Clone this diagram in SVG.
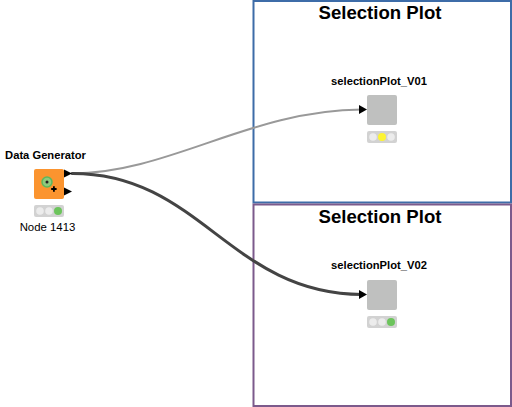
<svg xmlns="http://www.w3.org/2000/svg" width="512" height="407" viewBox="0 0 512 407">
<style>
text{font-family:"Liberation Sans",Arial,sans-serif;fill:#000;text-anchor:middle}
.t{font-size:18.6px;font-weight:bold}
.n{font-size:11.2px;font-weight:bold}
.l{font-size:11.4px}
.box{fill:none;stroke-width:2}
.bar{fill:#d2d2d2}
.off{fill:#ececec}
.g{fill:#6cc45c}
.y{fill:#fdf433}
.node{fill:#bfc0bf}
.port{fill:#000}
.c{fill:none;stroke-linecap:round}
</style>
<rect width="512" height="407" fill="#fff"/>
<g id="annotation-1"><rect class="box" x="253.5" y="1" width="257.5" height="201.5" stroke="#3d6ca8"/><text class="t" x="380" y="18.500">Selection Plot</text></g>
<g id="annotation-2"><rect class="box" x="253.5" y="204.5" width="257.5" height="201.5" stroke="#7c5a8c"/><text class="t" x="380" y="222.500">Selection Plot</text></g>
<g id="connectors">
<path class="c" d="M72 173.500C170 173 250 110 362 109.500" stroke="#999" stroke-width="2"/>
<path class="c" d="M72 173.500C200 173 230 294 362 294.500" stroke="#444" stroke-width="3"/>
</g>
<g id="data-generator">
<text class="n" x="45.500" y="159">Data Generator</text>
<rect x="34" y="169" width="30" height="30" rx="2" fill="#fb942f"/>
<circle cx="47" cy="182" r="5" fill="#8fc97e" stroke="#5cb85c" stroke-width="1.500"/>
<circle cx="47" cy="182" r="1.500" fill="#222"/>
<path d="M53 186.300h1.800v1.800h1.800v1.800h-1.800v1.800h-1.800v-1.800h-1.800v-1.800h1.800z" fill="#000"/>
<path class="port" d="M64 169.500l8 4-8 4zM64 187.500l8 4-8 4z"/>
<rect class="bar" x="34" y="205" width="30" height="12" rx="2"/>
<circle class="off" cx="40" cy="211" r="3.800"/><circle class="off" cx="49" cy="211" r="3.800"/><circle class="g" cx="58" cy="211" r="4"/>
<text class="l" x="47.500" y="231">Node 1413</text>
</g>
<g id="selectionPlot-v01">
<text class="n" x="379" y="85">selectionPlot_V01</text>
<rect class="node" x="367" y="95" width="30" height="30" rx="2"/>
<path class="port" d="M359 105l8 4.500-8 4.500z"/>
<rect class="bar" x="367" y="131" width="30" height="12" rx="2"/>
<circle class="off" cx="373" cy="137" r="3.800"/><circle class="y" cx="382" cy="137" r="4"/><circle class="off" cx="391" cy="137" r="3.800"/>
</g>
<g id="selectionPlot-v02">
<text class="n" x="379" y="269">selectionPlot_V02</text>
<rect class="node" x="367" y="280" width="30" height="30" rx="2"/>
<path class="port" d="M359 290l8 4.500-8 4.500z"/>
<rect class="bar" x="367" y="316" width="30" height="12" rx="2"/>
<circle class="off" cx="373" cy="322" r="3.800"/><circle class="off" cx="382" cy="322" r="3.800"/><circle class="g" cx="391" cy="322" r="4"/>
</g>
</svg>
